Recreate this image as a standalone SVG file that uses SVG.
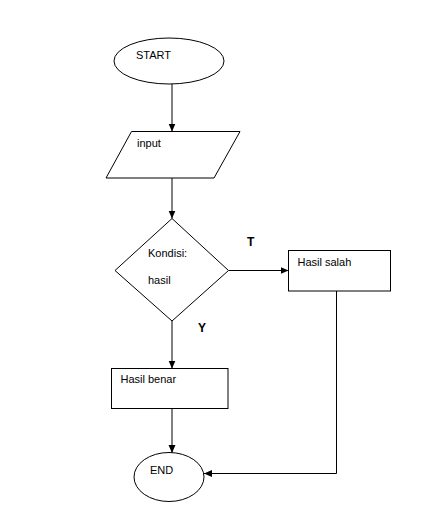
<svg xmlns="http://www.w3.org/2000/svg" width="443" height="526" viewBox="0 0 443 526">
<style>
.shape{fill:#fff;stroke:#000;stroke-width:1}
.conn{fill:none;stroke:#000;stroke-width:1}
text{font-family:"Liberation Sans",Arial,sans-serif;font-size:11px;fill:#000}
.lbl{font-weight:bold;font-size:12px}
</style>
<defs>
<marker id="arr" markerWidth="8" markerHeight="8" refX="8" refY="4" orient="auto" markerUnits="userSpaceOnUse">
<path d="M0,0.5 L8,4 L0,7.5 Z" fill="#000"/>
</marker>
</defs>
<rect width="443" height="526" fill="#fff"/>
<g id="connectors">
<line class="conn" x1="172" y1="84" x2="172" y2="131.5" marker-end="url(#arr)"/>
<line class="conn" x1="172" y1="178" x2="172" y2="218.5" marker-end="url(#arr)"/>
<line class="conn" x1="228.5" y1="270.5" x2="288.5" y2="270.5" marker-end="url(#arr)"/>
<line class="conn" x1="172" y1="321" x2="172" y2="368.5" marker-end="url(#arr)"/>
<line class="conn" x1="172" y1="408.5" x2="172" y2="453" marker-end="url(#arr)"/>
<polyline class="conn" points="336.5,291 336.5,473.5 204,473.5" marker-end="url(#arr)"/>
</g>
<g id="start">
<ellipse class="shape" cx="169" cy="61" rx="55" ry="23"/>
<text x="136" y="59">START</text>
</g>
<g id="input">
<polygon class="shape" points="131.5,131.5 240,131.5 214,178 106,178"/>
<text x="137" y="147">input</text>
</g>
<g id="kondisi">
<polygon class="shape" points="172,218.5 228.5,270.5 172,321 115,270.5"/>
<text x="148" y="257">Kondisi:</text>
<text x="148" y="284">hasil</text>
</g>
<g id="hasil-salah">
<rect class="shape" x="288.5" y="250.5" width="102" height="40.5"/>
<text x="297.5" y="266">Hasil salah</text>
</g>
<g id="hasil-benar">
<rect class="shape" x="111.5" y="368.5" width="116.5" height="40"/>
<text x="120.5" y="383">Hasil benar</text>
</g>
<g id="end">
<ellipse class="shape" cx="169" cy="477" rx="35" ry="24.5"/>
<text x="150" y="474">END</text>
</g>
<g id="labels">
<text class="lbl" x="247" y="246">T</text>
<text class="lbl" x="198" y="332">Y</text>
</g>
</svg>
